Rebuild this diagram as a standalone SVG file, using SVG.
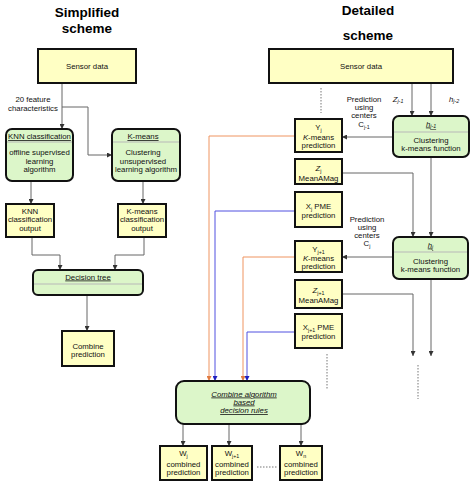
<svg xmlns="http://www.w3.org/2000/svg" width="474" height="484" viewBox="0 0 474 484">
<style>
.y{fill:#ffffc4;stroke:#111;stroke-width:2}
.g{fill:#dcf6c9;stroke:#111;stroke-width:2}
.sep{stroke:#b8b8b8;stroke-width:1}
text{font-family:"Liberation Sans",Arial,sans-serif;font-size:7.8px;fill:#111;text-anchor:middle}
.ttl{font-size:13.5px;font-weight:bold;fill:#000}
.u{text-decoration:underline}
.i{font-style:italic}
.s{font-size:5.3px}
.c{fill:none;stroke:#666;stroke-width:1}
.o{fill:none;stroke:#ef9460;stroke-width:1}
.b{fill:none;stroke:#5050e0;stroke-width:1}
.d{fill:none;stroke:#777;stroke-width:1;stroke-dasharray:1.5 1.5}
</style>
<defs>
<marker id="a" viewBox="0 0 6 6" refX="6" refY="3" markerWidth="5" markerHeight="5" markerUnits="userSpaceOnUse" orient="auto"><path d="M0,0L6,3L0,6z" fill="#333"/></marker>
<marker id="ao" viewBox="0 0 6 6" refX="6" refY="3" markerWidth="5" markerHeight="5" markerUnits="userSpaceOnUse" orient="auto"><path d="M0,0L6,3L0,6z" fill="#e07a40"/></marker>
<marker id="ab" viewBox="0 0 6 6" refX="6" refY="3" markerWidth="5" markerHeight="5" markerUnits="userSpaceOnUse" orient="auto"><path d="M0,0L6,3L0,6z" fill="#2020c0"/></marker>
</defs>
<rect width="474" height="484" fill="#fff"/>

<g id="titles">
<text class="ttl" x="87" y="17">Simplified</text>
<text class="ttl" x="87" y="33">scheme</text>
<text class="ttl" x="368" y="15">Detailed</text>
<text class="ttl" x="368" y="40">scheme</text>
</g>

<g id="connectors">
<path class="c" d="M62,83V129" marker-end="url(#a)"/>
<path class="c" d="M62,107H88V155H112" marker-end="url(#a)"/>
<path class="c" d="M31,181V204" marker-end="url(#a)"/>
<path class="c" d="M143,181V204" marker-end="url(#a)"/>
<path class="c" d="M32,237V255H60V270" marker-end="url(#a)"/>
<path class="c" d="M144,237V255H115V270" marker-end="url(#a)"/>
<path class="c" d="M87,295V331" marker-end="url(#a)"/>
<path class="d" d="M321,88V113"/>
<path class="c" d="M412,83V116" marker-end="url(#a)"/>
<path class="c" d="M431,83V116" marker-end="url(#a)"/>
<path class="c" d="M393,137H342" marker-end="url(#a)"/>
<path class="c" d="M342,173H413V237" marker-end="url(#a)"/>
<path class="c" d="M431,157V237" marker-end="url(#a)"/>
<path class="c" d="M393,257H342" marker-end="url(#a)"/>
<path class="c" d="M342,294H413V356" marker-end="url(#a)"/>
<path class="c" d="M431,279V356" marker-end="url(#a)"/>
<path class="d" d="M327,354V389"/>
<path class="d" d="M418,365V399"/>
<path class="o" d="M295,136H209V381" marker-end="url(#ao)"/>
<path class="b" d="M295,211H215V381" marker-end="url(#ab)"/>
<path class="o" d="M295,257H243V381" marker-end="url(#ao)"/>
<path class="b" d="M295,332H247V381" marker-end="url(#ab)"/>
<path class="c" d="M183,424V446" marker-end="url(#a)"/>
<path class="c" d="M229,424V446" marker-end="url(#a)"/>
<path class="c" d="M301,424V446" marker-end="url(#a)"/>
<path class="d" d="M257,467H277"/>
</g>

<g id="sensor-left">
<rect class="y" x="38" y="49" width="98" height="34"/>
<text x="87" y="68.5">Sensor data</text>
</g>
<g id="label-features">
<text x="33" y="102">20 feature</text>
<text x="33" y="110.5">characteristics</text>
</g>
<g id="knn">
<rect class="g" x="6" y="129" width="67" height="52" rx="6"/>
<line class="sep" x1="7" y1="142" x2="72" y2="142"/>
<text class="u" x="39.5" y="139">KNN classification</text>
<text x="39.5" y="155">offline supervised</text>
<text x="39.5" y="163.5">learning</text>
<text x="39.5" y="172">algorithm</text>
</g>
<g id="kmeans">
<rect class="g" x="112" y="129" width="68" height="52" rx="6"/>
<line class="sep" x1="113" y1="142" x2="179" y2="142"/>
<text class="u" x="143" y="139">K-means</text>
<text x="143" y="155">Clustering</text>
<text x="143" y="163.5">unsupervised</text>
<text x="146" y="172">learning algorithm</text>
</g>
<g id="knn-out">
<rect class="y" x="6" y="204" width="48" height="33"/>
<text x="30" y="213.5">KNN</text>
<text x="30" y="222">classification</text>
<text x="30" y="230.5">output</text>
</g>
<g id="kmeans-out">
<rect class="y" x="118" y="204" width="48" height="33"/>
<text x="142" y="213.5">K-means</text>
<text x="142" y="222">classification</text>
<text x="142" y="230.5">output</text>
</g>
<g id="decision-tree">
<rect class="g" x="33" y="270" width="110" height="25" rx="5"/>
<line class="sep" x1="34" y1="284" x2="142" y2="284"/>
<text class="u" x="88" y="279.5">Decision tree</text>
</g>
<g id="combine-pred">
<rect class="y" x="62" y="331" width="52" height="35"/>
<text x="88" y="348.5">Combine</text>
<text x="88" y="356.5">prediction</text>
</g>

<g id="sensor-right">
<rect class="y" x="269" y="49" width="184" height="34"/>
<text x="361" y="68.5">Sensor data</text>
</g>
<g id="label-pred1">
<text x="364" y="102">Prediction</text>
<text x="364" y="110">using</text>
<text x="364" y="118">centers</text>
<text x="364" y="127">C<tspan class="s" dy="1.5">j-1</tspan></text>
</g>
<g id="label-z">
<text class="i" x="398" y="101.5">Z<tspan class="s" dy="1.5">j-1</tspan></text>
<text class="i" x="454" y="101.5">h<tspan class="s" dy="1.5">j-2</tspan></text>
</g>
<g id="h-j-1">
<rect class="g" x="393" y="116" width="76" height="41" rx="6"/>
<line class="sep" x1="394" y1="132" x2="468" y2="132"/>
<text class="u i" x="431" y="126.5">h<tspan class="s" dy="1.5">j-1</tspan></text>
<text x="431" y="142.5">Clustering</text>
<text x="431" y="150.5">k-means function</text>
</g>
<g id="y-j">
<rect class="y" x="295" y="119" width="47" height="33"/>
<text x="318.5" y="130">Y<tspan class="s" dy="1.5">j</tspan></text>
<text x="318.5" y="140"><tspan class="i">K</tspan>-means</text>
<text x="318.5" y="148">prediction</text>
</g>
<g id="z-j">
<rect class="y" x="295" y="159" width="47" height="25"/>
<text x="318.5" y="171"><tspan class="i">Z</tspan><tspan class="s" dy="1.5">j</tspan></text>
<text x="318.5" y="181">MeanAMag</text>
</g>
<g id="x-j">
<rect class="y" x="295" y="192" width="47" height="35"/>
<text x="318.5" y="209">X<tspan class="s" dy="1.5">j</tspan><tspan dy="-1.5"> PME</tspan></text>
<text x="318.5" y="218">prediction</text>
</g>
<g id="label-pred2">
<text x="367" y="221.5">Prediction</text>
<text x="367" y="230">using</text>
<text x="367" y="237.5">centers</text>
<text x="367" y="246">C<tspan class="s" dy="1.5">j</tspan></text>
</g>
<g id="h-j">
<rect class="g" x="393" y="237" width="75" height="42" rx="6"/>
<line class="sep" x1="394" y1="252" x2="467" y2="252"/>
<text class="u i" x="430.5" y="247.5">h<tspan class="s" dy="1.5">j</tspan></text>
<text x="430.5" y="263.5">Clustering</text>
<text x="430.5" y="271.5">k-means function</text>
</g>
<g id="y-j1">
<rect class="y" x="295" y="241" width="47" height="31"/>
<text x="318.5" y="252">Y<tspan class="s" dy="1.5">j+1</tspan></text>
<text x="318.5" y="261"><tspan class="i">K</tspan>-means</text>
<text x="318.5" y="269">prediction</text>
</g>
<g id="z-j1">
<rect class="y" x="295" y="280" width="47" height="28"/>
<text x="318.5" y="293"><tspan class="i">Z</tspan><tspan class="s" dy="1.5">j+1</tspan></text>
<text x="318.5" y="303">MeanAMag</text>
</g>
<g id="x-j1">
<rect class="y" x="295" y="314" width="47" height="34"/>
<text x="318.5" y="330">X<tspan class="s" dy="1.5">j+1</tspan><tspan dy="-1.5"> PME</tspan></text>
<text x="318.5" y="339">prediction</text>
</g>

<g id="combine-algorithm">
<rect class="g" x="176" y="381" width="134" height="43" rx="8"/>
<text class="u i" x="244" y="396.5">Combine algorithm</text>
<text class="u i" x="244" y="404.5">based</text>
<text class="u i" x="244" y="413">decision rules</text>
</g>
<g id="w-j">
<rect class="y" x="160" y="446" width="47" height="34"/>
<text x="183.5" y="456">W<tspan class="s" dy="1.5">j</tspan></text>
<text x="183.5" y="466.5">combined</text>
<text x="183.5" y="474.5">prediction</text>
</g>
<g id="w-j1">
<rect class="y" x="212" y="446" width="40" height="34"/>
<text x="232" y="456">W<tspan class="s" dy="1.5">j+1</tspan></text>
<text x="232" y="466.5">combined</text>
<text x="232" y="474.5">prediction</text>
</g>
<g id="w-n">
<rect class="y" x="280" y="446" width="42" height="34"/>
<text x="301" y="456">W<tspan class="s" dy="1.5">n</tspan></text>
<text x="301" y="466.5">combined</text>
<text x="301" y="474.5">prediction</text>
</g>
</svg>
